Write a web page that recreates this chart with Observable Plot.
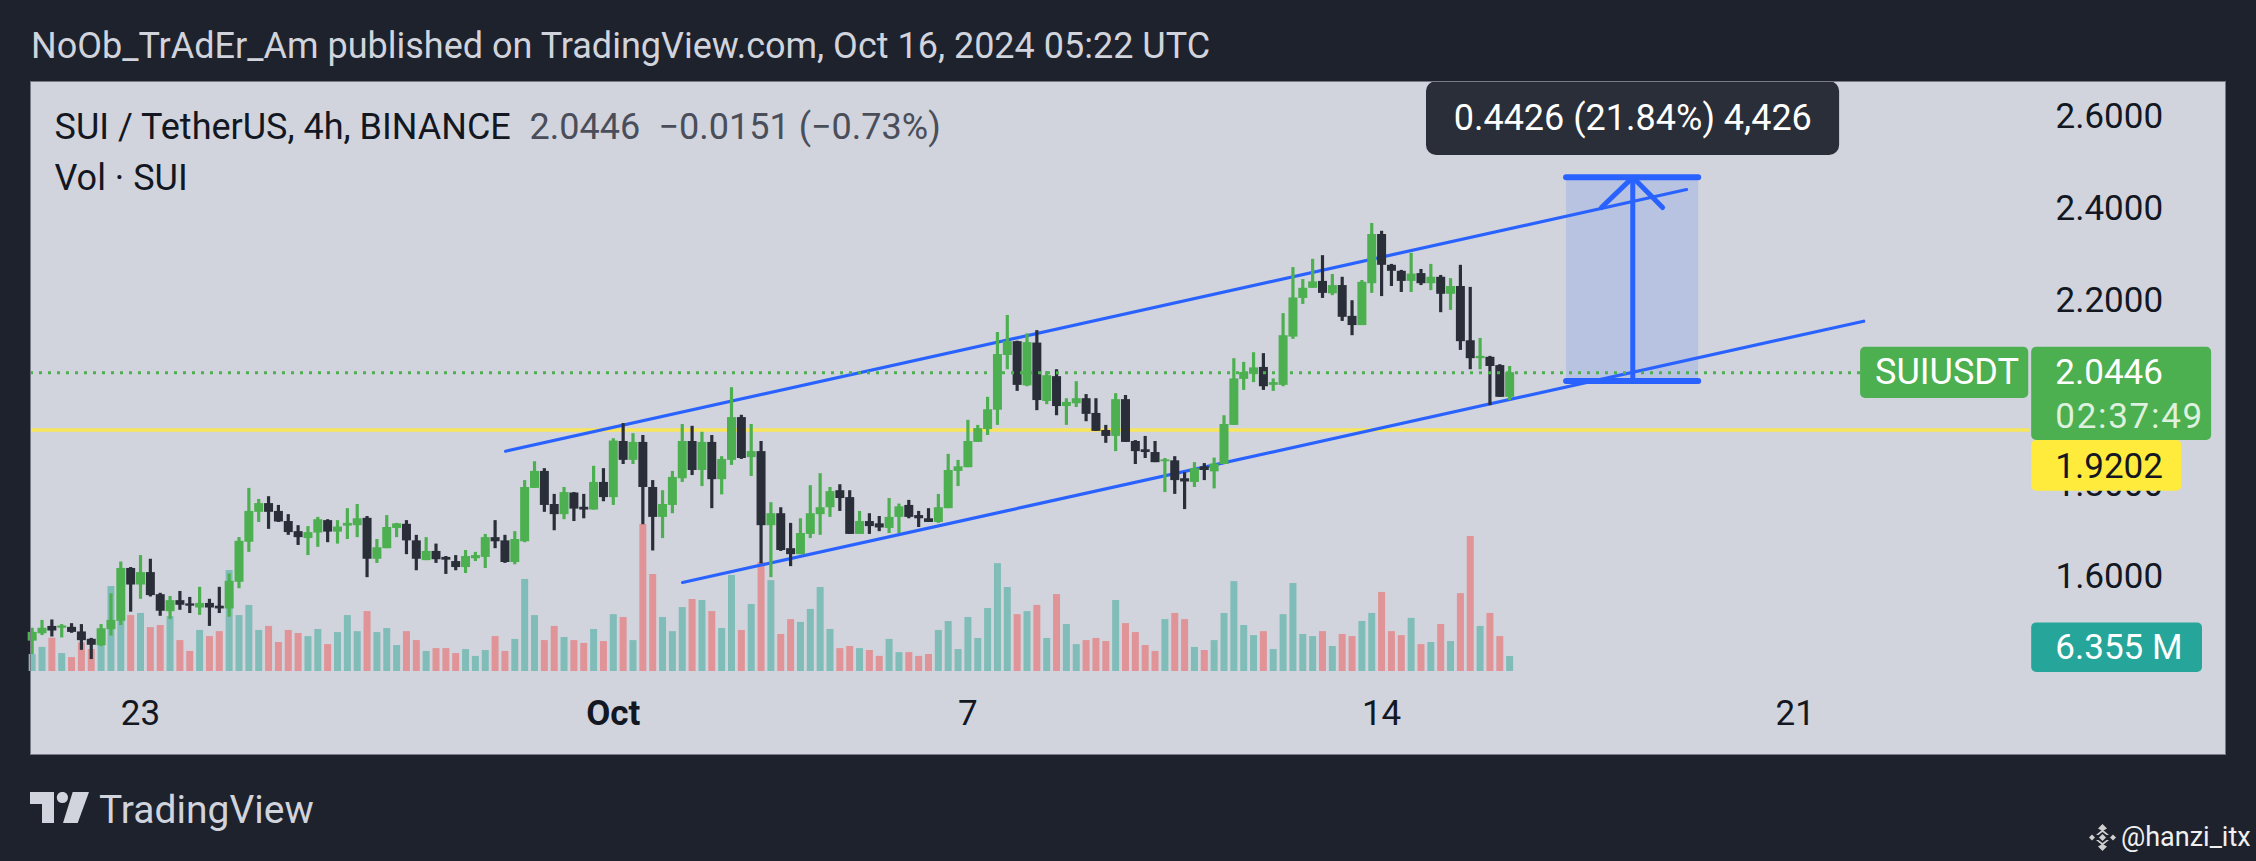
<!DOCTYPE html>
<html><head><meta charset="utf-8">
<script src="https://cdn.jsdelivr.net/npm/d3@7"></script>
<script src="https://cdn.jsdelivr.net/npm/@observablehq/plot@0.6"></script>
<style>
html,body{margin:0;padding:0;background:#1E222D;width:2256px;height:861px;overflow:hidden;font-family:Roboto,sans-serif}
#head{position:absolute;left:31px;top:24px;color:#D1D4DC;font-size:36px;line-height:44px;white-space:nowrap}
#chart{position:absolute;left:30px;top:81px;width:2196px;height:674px;outline:1px solid #787B86;outline-offset:-1px}
#chart svg{display:block}
#logo{position:absolute;left:30px;top:792px}
#brand{position:absolute;left:99px;top:786px;color:#D1D4DC;font-size:39px;line-height:48px}
#mark{position:absolute;left:2088px;top:823px}
#handle{position:absolute;left:2121px;top:820px;color:#F0F0F0;font-size:27px;line-height:34px;white-space:nowrap}
.countdown text{letter-spacing:1.7px}
</style></head><body>
<div id="head">NoOb_TrAdEr_Am published on TradingView.com, Oct 16, 2024 05:22 UTC</div>
<div id="chart"></div>
<svg id="logo" width="60" height="31" viewBox="0 0 60 31"><path fill="#D1D4DC" d="M0 0H24V31H12V12H0Z"/><circle fill="#D1D4DC" cx="32.4" cy="5.5" r="5.6"/><path fill="#D1D4DC" d="M42.7 0H59L47.7 31H33Z"/></svg>
<div id="brand">TradingView</div>
<svg id="mark" width="29" height="29" viewBox="0 0 29 29"><g fill="#CFCFCF"><path d="M14.5 1 19 5.5 14.5 8 10 5.5Z"/><path d="M14.5 28 19 23.5 14.5 21 10 23.5Z"/><path d="M1 14.5 4 11.5 7 14.5 4 17.5Z"/><path d="M22 14.5 25 11.5 28 14.5 25 17.5Z"/><path d="M14.5 11 18 14.5 14.5 18 11 14.5Z"/><path d="M8 12 14.5 6.5 21 12 18.5 12 14.5 9 10.5 12Z"/><path d="M8 17 14.5 22.5 21 17 18.5 17 14.5 20 10.5 17Z"/></g></svg>
<div id="handle">@hanzi_itx</div>
<script>
// 4h SUI/USDT candles, first bar Sep 21 2024 04:00 UTC
const opens = [1.461,1.477,1.493,1.489,1.491,1.481,1.465,1.451,1.486,1.504,
1.619,1.583,1.610,1.562,1.525,1.549,1.542,1.533,1.543,1.537,
1.531,1.589,1.676,1.741,1.760,1.743,1.721,1.699,1.684,1.696,
1.723,1.698,1.711,1.712,1.728,1.639,1.662,1.706,1.715,1.679,
1.636,1.656,1.643,1.634,1.621,1.640,1.643,1.686,1.679,1.632,
1.677,1.793,1.830,1.758,1.736,1.783,1.752,1.746,1.806,1.773,
1.895,1.854,1.893,1.795,1.730,1.756,1.814,1.895,1.832,1.893,
1.812,1.854,1.947,1.860,1.873,1.712,1.738,1.662,1.649,1.693,
1.736,1.751,1.788,1.773,1.693,1.721,1.716,1.706,1.730,1.756,
1.734,1.727,1.719,1.749,1.830,1.838,1.893,1.921,1.963,2.082,
2.112,2.016,2.109,1.982,2.036,1.971,1.977,1.988,1.956,1.919,
1.906,1.986,1.895,1.877,1.871,1.851,1.853,1.814,1.806,1.840,
1.829,1.845,1.930,2.030,2.041,2.056,2.017,2.017,2.122,2.206,
2.228,2.243,2.216,2.234,2.167,2.147,2.238,2.345,2.278,2.265,
2.243,2.260,2.238,2.252,2.215,2.232,2.114,2.075,2.078,2.060,
1.991];
const closes = [1.480,1.489,1.483,1.494,1.480,1.462,1.452,1.488,1.506,1.619,
1.583,1.610,1.560,1.526,1.549,1.539,1.537,1.543,1.533,1.531,
1.591,1.678,1.743,1.760,1.741,1.720,1.697,1.686,1.697,1.725,
1.698,1.709,1.717,1.727,1.639,1.664,1.708,1.716,1.679,1.639,
1.656,1.638,1.637,1.621,1.645,1.647,1.686,1.677,1.632,1.682,
1.795,1.830,1.756,1.736,1.784,1.748,1.746,1.806,1.773,1.896,
1.854,1.893,1.795,1.730,1.758,1.817,1.895,1.832,1.893,1.812,
1.856,1.947,1.858,1.873,1.712,1.738,1.658,1.649,1.695,1.738,
1.751,1.786,1.771,1.693,1.721,1.710,1.707,1.730,1.753,1.730,
1.727,1.719,1.751,1.832,1.840,1.895,1.923,1.964,2.084,2.112,
2.017,2.110,1.984,2.038,1.971,1.980,1.988,1.954,1.917,1.906,
1.986,1.893,1.873,1.871,1.849,1.855,1.810,1.807,1.836,1.832,
1.846,1.932,2.031,2.045,2.055,2.014,2.023,2.125,2.207,2.228,
2.242,2.217,2.234,2.165,2.147,2.241,2.345,2.278,2.265,2.243,
2.259,2.238,2.252,2.215,2.232,2.112,2.075,2.080,2.058,1.991,
2.0446];
const highs = [1.489,1.506,1.507,1.497,1.499,1.497,1.467,1.497,1.564,1.633,
1.621,1.647,1.639,1.565,1.558,1.569,1.556,1.578,1.552,1.578,
1.607,1.686,1.793,1.769,1.775,1.756,1.736,1.712,1.710,1.730,
1.725,1.723,1.749,1.758,1.732,1.682,1.734,1.717,1.723,1.691,
1.686,1.672,1.645,1.647,1.658,1.654,1.693,1.723,1.691,1.699,
1.810,1.851,1.836,1.780,1.795,1.784,1.780,1.841,1.836,1.901,
1.934,1.912,1.908,1.810,1.788,1.830,1.932,1.928,1.915,1.908,
1.862,2.012,1.952,1.932,1.895,1.762,1.751,1.717,1.727,1.799,
1.825,1.795,1.801,1.788,1.743,1.738,1.732,1.771,1.759,1.767,
1.743,1.749,1.780,1.867,1.854,1.941,1.930,1.991,2.132,2.169,
2.113,2.129,2.136,2.047,2.051,1.988,2.025,1.997,1.988,1.930,
1.999,1.995,1.897,1.906,1.895,1.858,1.862,1.827,1.849,1.847,
1.859,1.951,2.075,2.067,2.088,2.086,2.031,2.173,2.273,2.247,
2.291,2.299,2.258,2.252,2.201,2.245,2.369,2.352,2.280,2.267,
2.304,2.269,2.280,2.256,2.249,2.278,2.230,2.119,2.080,2.062,
2.058];
const lows = [1.432,1.473,1.470,1.468,1.478,1.441,1.421,1.449,1.472,1.495,
1.524,1.552,1.557,1.515,1.508,1.528,1.521,1.517,1.493,1.521,
1.513,1.575,1.654,1.719,1.704,1.719,1.691,1.669,1.647,1.665,
1.675,1.672,1.682,1.686,1.599,1.630,1.662,1.686,1.649,1.614,
1.636,1.630,1.606,1.614,1.608,1.634,1.619,1.662,1.630,1.627,
1.675,1.793,1.741,1.701,1.725,1.721,1.727,1.746,1.764,1.756,
1.845,1.845,1.714,1.657,1.684,1.738,1.806,1.821,1.797,1.749,
1.779,1.843,1.856,1.819,1.629,1.599,1.656,1.623,1.649,1.684,
1.691,1.730,1.743,1.693,1.693,1.693,1.699,1.695,1.695,1.727,
1.708,1.719,1.717,1.749,1.797,1.838,1.893,1.908,1.930,2.051,
2.004,2.014,1.962,1.975,1.951,1.930,1.969,1.938,1.917,1.891,
1.873,1.893,1.845,1.858,1.849,1.784,1.780,1.747,1.795,1.810,
1.792,1.845,1.930,2.006,2.023,2.006,2.004,2.014,2.117,2.193,
2.228,2.206,2.212,2.156,2.125,2.147,2.217,2.210,2.232,2.219,
2.219,2.234,2.223,2.175,2.180,2.093,2.051,2.051,1.973,1.991,
1.984];
const volumes = [7.2,10.2,14.1,7.6,5.9,12.1,9.3,11.0,36.0,21.2,
23.7,24.6,18.6,19.5,23.3,13.1,8.5,17.4,14.8,16.9,
42.8,23.7,28.0,17.4,19.1,12.3,17.4,16.1,14.8,17.8,
11.4,16.5,23.7,16.9,25.4,16.5,18.2,11.0,16.9,13.1,
8.5,9.7,9.7,7.6,9.3,6.4,8.9,14.8,8.5,13.6,
39.0,23.7,13.1,19.1,14.4,13.1,11.9,17.8,12.7,24.1,
22.9,13.1,62.3,41.1,22.9,16.9,27.1,30.5,30.1,25.4,
18.2,40.7,17.4,28.4,46.2,38.5,15.7,22.0,20.8,26.3,
35.6,17.8,9.7,10.6,9.7,8.9,6.4,13.6,8.0,8.0,
6.4,7.2,17.4,21.2,9.3,22.9,14.0,26.7,45.7,35.6,
24.1,25.4,28.0,14.0,32.6,19.9,11.4,13.1,14.0,12.7,
30.1,20.3,16.5,11.0,8.5,22.0,24.6,22.0,10.2,8.9,
13.1,24.6,38.1,19.5,15.2,16.9,9.3,24.1,37.3,15.7,
14.8,16.9,10.6,15.7,14.8,21.2,24.6,33.5,16.9,15.2,
22.5,11.4,12.3,19.9,12.7,33.0,57.2,19.1,24.6,14.8,
6.355];

const firstBar = Date.UTC(2024,8,21,4);
const fourHours = 4*36e5;
const day = d => new Date(Date.UTC(2024,8,23) + d*864e5);  // days after Sep 23
const t = s => new Date(s);

const lastPrice = 2.0446, alertPrice = 1.9202;
const priceTicks = [1.6,1.8,2.2,2.4,2.6];
const dayTicks = [day(0), day(14), day(21), day(28)];
const dayTickLabels = ["23","7","14","21"];
const monthTick = [day(8)];

const upperChannel = [{x:t("2024-09-29T04:14Z"),y:1.8739},{x:t("2024-10-19T03:51Z"),y:2.4428}];
const lowerChannel = [{x:t("2024-10-02T04:07Z"),y:1.5885},{x:t("2024-10-22T03:46Z"),y:2.1565}];
const rangeFrom = 2.0266, rangeTo = 2.4692;
const rangeLeft = day(24.13), rangeRight = day(26.365), rangeMid = day(25.25);
const arrowHead = [{x:day(24.72),y:2.4037},{x:rangeMid,y:rangeTo},{x:day(25.755),y:2.4037}];

const volBase = 1.395, volScale = 0.00513; // volume (millions) shown in the pane's bottom band
const bars = opens.map((o,i) => ({
  date: new Date(firstBar + i*fourHours), o, c: closes[i], h: highs[i], l: lows[i], v: volumes[i], up: closes[i] >= o
}));
const GREEN="#4CAF50", DARK="#2A2E39", INK="#131722";
const volTop = d => volBase + d.v*volScale;

const tags = [
  {x1:day(29.105),x2:day(31.95),y1:1.9885,y2:2.1,fill:GREEN},
  {x1:day(32.0),x2:day(35.045),y1:1.8972,y2:2.1,fill:GREEN},
  {x1:day(32.0),x2:day(34.54),y1:1.787,y2:1.8972,fill:"#FFEB3B"},
  {x1:day(32.0),x2:day(34.89),y1:1.3927,y2:1.5007,fill:"#26A69A"}
];
const tagTexts = [
  {x:day(32.4),y:lastPrice,text:"2.0446",fill:"#FFFFFF"},
  {x:day(32.4),y:1.8391,text:"1.9202",fill:INK},
  {x:day(32.4),y:1.4472,text:"6.355 M",fill:"#FFFFFF"}
];
const FS = 35;

const chart = Plot.plot({
  width:2196, height:674, marginLeft:0, marginRight:196, marginTop:0, marginBottom:84,
  style:{background:"#D1D4DC",color:INK,fontFamily:"Roboto, sans-serif",overflow:"visible"},
  x:{type:"utc",domain:[day(-1.8614),day(31.98)]},
  y:{domain:[volBase,2.6776]},
  marks:[
    Plot.axisY({anchor:"right",ticks:priceTicks,tickFormat:d=>d.toFixed(4),tickSize:0,tickPadding:25,fontSize:FS,label:null}),
    Plot.axisX({ticks:dayTicks,tickFormat:(d,i)=>dayTickLabels[i],tickSize:0,tickPadding:29,fontSize:FS,label:null}),
    Plot.axisX({ticks:monthTick,tickFormat:()=>"Oct",tickSize:0,tickPadding:29,fontSize:FS,fontWeight:700,label:null}),
    Plot.ruleX(bars,{x:"date",y1:volBase,y2:volTop,strokeWidth:7,stroke:d=>d.up?"#81BDB8":"#E09497"}),
    Plot.ruleY([alertPrice],{stroke:"#F7E55A",strokeWidth:3.5}),
    Plot.rect([{}],{x1:rangeLeft,x2:rangeRight,y1:rangeFrom,y2:rangeTo,fill:"#2962FF",fillOpacity:0.15}),
    Plot.line(upperChannel,{x:"x",y:"y",stroke:"#2962FF",strokeWidth:3.2}),
    Plot.line(lowerChannel,{x:"x",y:"y",stroke:"#2962FF",strokeWidth:3.2}),
    Plot.ruleX(bars,{x:"date",y1:"l",y2:"h",strokeWidth:3.2,stroke:d=>d.up?GREEN:DARK}),
    Plot.ruleX(bars,{x:"date",y1:"o",y2:"c",strokeWidth:9,stroke:d=>d.up?GREEN:DARK}),
    Plot.ruleY([lastPrice],{x1:day(-1.8614),x2:day(29.105),stroke:GREEN,strokeWidth:3,strokeDasharray:"3 6"}),
    Plot.ruleX([rangeMid],{y1:rangeFrom,y2:rangeTo,stroke:"#2962FF",strokeWidth:5}),
    Plot.ruleY([rangeFrom,rangeTo],{x1:rangeLeft,x2:rangeRight,stroke:"#2962FF",strokeWidth:6,strokeLinecap:"round"}),
    Plot.line(arrowHead,{x:"x",y:"y",stroke:"#2962FF",strokeWidth:5,strokeLinecap:"round",strokeLinejoin:"round"}),
    Plot.rect([{}],{x1:day(21.76),x2:day(28.75),y1:2.5167,y2:2.6776,fill:DARK,rx:10}),
    Plot.text(["0.4426 (21.84%) 4,426"],{x:rangeMid,y:2.597,text:d=>d,fill:"#FFFFFF",fontSize:36}),
    Plot.rect(tags,{x1:"x1",x2:"x2",y1:"y1",y2:"y2",fill:"fill",rx:5}),
    Plot.text(["SUIUSDT"],{x:day(29.35),y:lastPrice,text:d=>d,fill:"#FFFFFF",fontSize:36,textAnchor:"start"}),
    Plot.text(tagTexts,{x:"x",y:"y",text:"text",fill:"fill",fontSize:FS,textAnchor:"start"}),
    Plot.text(["02:37:49"],{x:day(32.4),y:1.9478,text:d=>d,fill:"#DDF1DE",fontSize:FS,textAnchor:"start",className:"countdown"}),
    Plot.text(["SUI / TetherUS, 4h, BINANCE"],{frameAnchor:"top-left",dx:24,dy:46,lineAnchor:"middle",fontSize:36,fill:INK,textAnchor:"start"}),
    Plot.text(["2.0446"],{frameAnchor:"top-left",dx:499,dy:46,lineAnchor:"middle",fontSize:36,fill:"#4A4E5A",textAnchor:"start"}),
    Plot.text(["\u22120.0151 (\u22120.73%)"],{frameAnchor:"top-left",dx:628,dy:46,lineAnchor:"middle",fontSize:36,fill:"#4A4E5A",textAnchor:"start"}),
    Plot.text(["Vol \u00B7 SUI"],{frameAnchor:"top-left",dx:24,dy:97,lineAnchor:"middle",fontSize:36,fill:INK,textAnchor:"start"})
  ]
});
document.getElementById("chart").append(chart);
</script>
</body></html>
